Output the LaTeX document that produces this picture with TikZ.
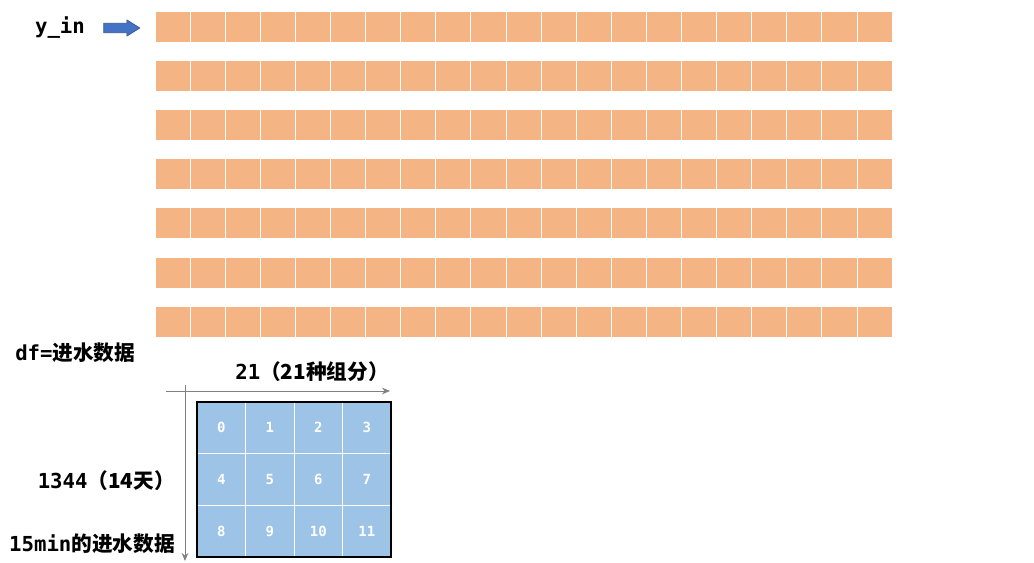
\documentclass[tikz,border=0pt]{standalone}
\usepackage{fontspec}
\setmonofont{DejaVu Sans Mono}
\newfontfamily\cjk{Noto Sans CJK SC}
\usetikzlibrary{arrows.meta,shapes.arrows}
\definecolor{cellorange}{RGB}{245,180,131}
\definecolor{cellblue}{RGB}{157,195,230}
\definecolor{arrowblue}{RGB}{68,114,196}
\definecolor{arrowedge}{RGB}{47,82,143}
\definecolor{axisgray}{RGB}{128,128,128}
\newcommand{\zh}[1]{{\cjk #1}}

\begin{document}
\begin{tikzpicture}[x=0.75pt,y=0.75pt,yscale=-1,xscale=1,
  label/.style={font=\ttfamily\bfseries\fontsize{15.5}{18}\selectfont,inner sep=0pt},
  num/.style={font=\ttfamily\bfseries\fontsize{10.5}{12}\selectfont,text=white,inner sep=0pt,
    text height=7.5pt,text depth=0pt},
  ocell/.style={fill=cellorange,draw=white,line width=0.75pt},
  bcell/.style={fill=cellblue,draw=white,line width=0.75pt},
  axis/.style={draw=axisgray,line width=0.75pt,-{Stealth[length=6pt,width=5pt]}}]
\useasboundingbox (0,0) rectangle (1034,562);

%Shape: Rectangle rows of y_in
\foreach \r in {0,...,6}{
  \foreach \c in {0,...,20}{
    \draw[ocell] ({155+35.1*\c},{11+49.2*\r}) rectangle ({155+35.1*(\c+1)},{42+49.2*\r});
  }
}

%Text Node
\node[label] (yin) at (60,28) {y\_in};
%Shape: Right Arrow
\node[single arrow,fill=arrowblue,draw=arrowedge,line width=0.5pt,
  inner xsep=0pt,inner ysep=3.3pt,
  minimum height=27pt,single arrow head extend=2.5pt,
  single arrow tip angle=64] (inarrow) at (118,28) {};

%Text Node
\node[label,anchor=west] (df) at (15,353) {df=\zh{进水数据}};
\node[label,anchor=east] (cols) at (389,372) {21\zh{（21种组分）}};
\node[label,anchor=east] (rows) at (175,481) {1344\zh{（14天）}};
\node[label,anchor=east] (unit) at (175,544) {15min\zh{的进水数据}};

%Straight Lines (axes)
\coordinate (hx0) at (166,391);
\coordinate (hx1) at (390,391);
\coordinate (vy0) at (185,385);
\coordinate (vy1) at (185,561);
\draw[axis] (hx0) -- (hx1);
\draw[axis] (vy0) -- (vy1);

%Shape: Rectangle grid of df
\foreach \r in {0,1,2}{
  \foreach \c in {0,...,3}{
    \pgfmathtruncatemacro{\n}{4*\r+\c}
    \draw[bcell] ({197+48.5*\c},{402+51.67*\r}) rectangle ({197+48.5*(\c+1)},{402+51.67*(\r+1)});
    \node[num] (c\n) at ({197+48.5*(\c+0.5)},{402+51.67*(\r+0.5)}) {\n};
  }
}
\draw[line width=1.5pt] (197,402) rectangle (391,557);

\end{tikzpicture}
\end{document}
